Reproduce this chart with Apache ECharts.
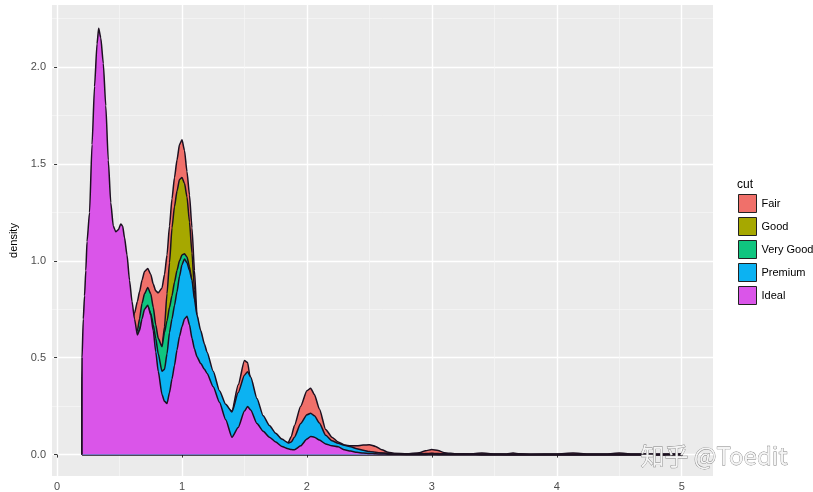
<!DOCTYPE html>
<html>
<head>
<meta charset="utf-8">
<script src="https://cdn.jsdelivr.net/npm/echarts@6/dist/echarts.min.js"></script>
<style>html,body{margin:0;padding:0;background:#fff;}#c{width:813px;height:492px;}</style>
</head>
<body>
<div id="c"></div>
<script>
const xs = [
 0.20,0.21,0.22,0.23,0.24,0.26,0.28,0.30,0.32,0.333,
 0.35,0.37,0.39,0.41,0.43,0.45,0.47,0.49,0.51,0.525,
 0.54,0.56,0.58,0.60,0.62,0.643,0.66,0.68,0.70,0.726,
 0.75,0.77,0.79,0.81,0.84,0.86,0.88,0.90,0.92,0.94,
 0.96,0.98,1.00,1.02,1.04,1.06,1.08,1.10,1.12,1.15,
 1.18,1.20,1.25,1.30,1.35,1.40,1.45,1.50,1.525,1.55,
 1.60,1.65,1.70,1.75,1.80,1.85,1.875,1.90,1.95,2.00,
 2.03,2.06,2.10,2.15,2.20,2.25,2.30,2.35,2.40,2.45,
 2.50,2.55,2.60,2.65,2.70,2.80,2.90,2.95,3.00,3.05,
 3.10,3.20,3.30,3.40,3.50,3.60,3.65,3.70,3.80,4.00,
 4.13,4.25,4.40,4.50,4.60,4.80,5.01
];
const fair = [
 0.05,0.07,0.09,0.11,0.13,0.17,0.22,0.27,0.30,0.32,
 0.34,0.35,0.36,0.37,0.38,0.40,0.43,0.47,0.52,0.56,
 0.60,0.63,0.66,0.69,0.73,0.79,0.84,0.90,0.945,0.96,
 0.93,0.88,0.845,0.835,0.86,0.93,1.03,1.18,1.32,1.43,
 1.52,1.60,1.625,1.57,1.46,1.34,1.17,0.95,0.72,0.60,
 0.52,0.48,0.40,0.31,0.245,0.225,0.36,0.485,0.475,0.38,
 0.26,0.17,0.12,0.09,0.065,0.062,0.094,0.15,0.25,0.33,
 0.342,0.31,0.235,0.13,0.09,0.065,0.05,0.045,0.045,0.049,
 0.051,0.042,0.025,0.012,0.006,0.004,0.01,0.02,0.026,0.021,
 0.01,0.003,0.003,0.008,0.003,0.003,0.008,0.004,0.002,0.003,
 0.008,0.003,0.003,0.008,0.003,0.002,0.003
];
const good = [
 0.30,0.42,0.52,0.60,0.68,0.82,0.98,1.10,1.15,1.15,
 1.10,1.00,0.90,0.80,0.75,0.74,0.76,0.80,0.82,0.82,
 0.78,0.72,0.66,0.60,0.56,0.58,0.64,0.72,0.78,0.82,
 0.80,0.73,0.64,0.58,0.555,0.66,0.83,0.99,1.17,1.28,
 1.36,1.42,1.43,1.40,1.33,1.20,1.04,0.85,0.68,0.57,
 0.50,0.47,0.39,0.30,0.23,0.20,0.29,0.39,0.40,0.37,
 0.26,0.17,0.12,0.085,0.06,0.045,0.05,0.07,0.12,0.16,
 0.17,0.16,0.12,0.075,0.05,0.035,0.028,0.022,0.018,0.016,
 0.013,0.009,0.006,0.004,0.003,0.003,0.003,0.004,0.005,0.004,
 0.003,0.002,0.002,0.001,0.001,0.001,0.001,0.001,0.001,0.001,
 0.001,0,0,0,0,0,0
];
const veryGood = [
 0.35,0.50,0.60,0.70,0.80,0.95,1.15,1.30,1.40,1.42,
 1.38,1.30,1.15,1.00,0.92,0.90,0.92,0.95,0.97,0.96,
 0.90,0.82,0.74,0.67,0.62,0.64,0.70,0.78,0.83,0.862,
 0.83,0.76,0.67,0.60,0.557,0.63,0.69,0.76,0.82,0.89,
 0.95,1.00,1.03,1.036,1.02,0.97,0.89,0.78,0.67,0.58,
 0.52,0.49,0.41,0.31,0.24,0.21,0.30,0.40,0.41,0.38,
 0.27,0.18,0.13,0.09,0.065,0.05,0.055,0.075,0.13,0.17,
 0.18,0.17,0.13,0.08,0.055,0.04,0.03,0.025,0.02,0.018,
 0.015,0.010,0.007,0.005,0.004,0.003,0.003,0.004,0.005,0.004,
 0.003,0.002,0.002,0.001,0.001,0.001,0.001,0.001,0.001,0.001,
 0.001,0.001,0,0,0,0,0
];
const premium = [
 0.40,0.55,0.65,0.75,0.85,1.00,1.25,1.45,1.55,1.55,
 1.50,1.40,1.25,1.05,0.95,0.92,0.92,0.95,0.98,0.98,
 0.93,0.85,0.76,0.68,0.62,0.62,0.645,0.69,0.74,0.765,
 0.73,0.67,0.60,0.52,0.43,0.44,0.52,0.63,0.70,0.77,
 0.84,0.92,0.98,1.01,0.99,0.95,0.90,0.80,0.72,0.64,
 0.57,0.53,0.43,0.33,0.26,0.22,0.32,0.41,0.428,0.40,
 0.29,0.20,0.15,0.11,0.08,0.06,0.065,0.09,0.16,0.205,
 0.214,0.20,0.163,0.10,0.072,0.058,0.048,0.04,0.03,0.022,
 0.016,0.012,0.008,0.006,0.005,0.004,0.004,0.005,0.006,0.005,
 0.004,0.003,0.002,0.002,0.002,0.001,0.001,0.001,0.001,0.001,
 0.001,0.001,0.001,0.001,0.001,0.001,0
];
const ideal = [
 0.50,0.70,0.82,0.95,1.10,1.25,1.60,1.90,2.12,2.20,
 2.15,2.02,1.80,1.52,1.30,1.18,1.15,1.16,1.19,1.18,
 1.12,1.03,0.90,0.79,0.70,0.617,0.64,0.70,0.75,0.771,
 0.72,0.64,0.53,0.43,0.31,0.275,0.264,0.32,0.39,0.46,
 0.54,0.61,0.66,0.70,0.714,0.67,0.60,0.545,0.505,0.47,
 0.44,0.42,0.35,0.27,0.18,0.09,0.14,0.225,0.248,0.23,
 0.16,0.12,0.09,0.065,0.042,0.03,0.026,0.025,0.045,0.08,
 0.094,0.09,0.075,0.055,0.045,0.04,0.025,0.018,0.012,0.008,
 0.006,0.004,0.003,0.002,0.002,0.001,0.001,0.001,0.002,0.001,
 0.001,0.001,0,0,0,0,0,0,0,0,
 0,0,0,0,0,0,0
];
const cuts = ['Fair', 'Good', 'Very Good', 'Premium', 'Ideal'];
const seriesValues = [fair, good, veryGood, premium, ideal];
const fills = ['#F0706A', '#A6A800', '#10C57F', '#0CB2F2', '#DA55E9'];
const xTicks = [0, 1, 2, 3, 4, 5];
const xMinor = [0.5, 1.5, 2.5, 3.5, 4.5];
const yTicks = [0, 0.5, 1, 1.5, 2];
const yMinor = [0.25, 0.75, 1.25, 1.75, 2.25];

const xMin = -0.0405, xMax = 5.2505, yMin = -0.1105, yMax = 2.3205;
const font = '"Liberation Sans", Arial, sans-serif';
const outline = '#1C1020';

const chart = echarts.init(document.getElementById('c'), null, {renderer: 'canvas'});

function mkAxis(isX, ticks, major, extra) {
  return Object.assign({
    type: 'value',
    min: isX ? xMin : yMin,
    max: isX ? xMax : yMax,
    axisLine: {show: false},
    axisTick: {show: major, length: 3, lineStyle: {color: '#333', width: 1}, customValues: ticks},
    axisLabel: major ? {
      show: true, customValues: ticks, color: '#4D4D4D', fontSize: 11, fontFamily: font,
      margin: isX ? 5 : 6,
      formatter: v => isX ? String(v) : Number(v).toFixed(1)
    } : {show: false, customValues: ticks},
    splitLine: {show: true, lineStyle: {color: major ? '#FFFFFF' : '#F7F7F7', width: major ? 1.4 : 0.7}}
  }, extra || {});
}

const series = cuts.map((name, k) => {
  const vals = seriesValues[k];
  const data = [[xs[0], 0]].concat(xs.map((x, i) => [x, vals[i]])).concat([[xs[xs.length - 1], 0]]);
  const s = {
    name: name,
    type: 'line',
    xAxisIndex: 0, yAxisIndex: 0,
    data: data,
    symbol: 'none',
    smooth: 0.2,
    smoothMonotone: 'x',
    itemStyle: {color: fills[k], borderColor: '#222', borderWidth: 1},
    lineStyle: {color: outline, width: 1.5},
    areaStyle: {color: fills[k], opacity: 1},
    silent: true,
    z: 3 + k
  };
  if (k === cuts.length - 1) {
    s.markLine = {
      silent: true, symbol: ['none', 'none'], label: {show: false},
      lineStyle: {color: outline, width: 1.5, type: 'solid'},
      data: [[{coord: [xs[0], 0]}, {coord: [xs[xs.length - 1], 0]}]]
    };
  }
  return s;
});

chart.setOption({
  animation: false,
  backgroundColor: '#FFFFFF',
  grid: {left: 50, top: 5, width: 663, height: 471, show: true, backgroundColor: '#EBEBEB', borderWidth: 0},
  xAxis: [
    mkAxis(true, xTicks, true),
    mkAxis(true, xMinor, false, {gridIndex: 0})
  ],
  yAxis: [
    mkAxis(false, yTicks, true, {name: 'density', nameLocation: 'middle', nameGap: 33,
      nameTextStyle: {color: '#000', fontSize: 11, fontFamily: font}}),
    mkAxis(false, yMinor, false, {gridIndex: 0})
  ],
  legend: {
    data: cuts, orient: 'vertical', left: 738, top: 194, padding: 0,
    itemWidth: 18, itemHeight: 18, itemGap: 4, icon: 'rect',
    textStyle: {color: '#000', fontSize: 11, fontFamily: font},
    itemStyle: {borderColor: '#222', borderWidth: 1}
  },
  graphic: [
    {type: 'text', left: 737, top: 179, style: {text: 'cut', fill: '#000', font: '12px ' + font}},
    {type: 'text', left: 640, top: 443, z: 100, style: {text: '知乎 @Toedit', fill: '#F4F4F4', stroke: '#808080', lineWidth: 0.8, font: '24px "Noto Sans CJK SC", sans-serif'}}
  ],
  series: series
});
</script>
</body>
</html>
